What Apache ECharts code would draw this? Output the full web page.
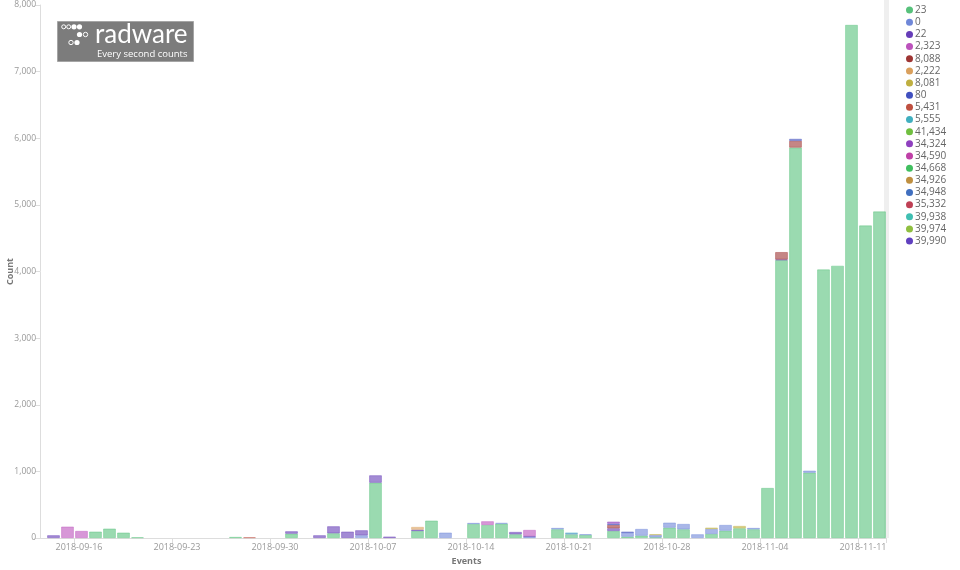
<!DOCTYPE html>
<html>
<head>
<meta charset="utf-8">
<script src="https://cdn.jsdelivr.net/npm/echarts@6/dist/echarts.min.js"></script>
<style>html,body{margin:0;padding:0;background:#fff;}#c{width:960px;height:570px;}</style>
</head>
<body>
<div id="c"></div>
<script>
// Days shown (one bar per day)
const days = ['2018-09-14','2018-09-15','2018-09-16','2018-09-17','2018-09-18','2018-09-19','2018-09-20','2018-09-21','2018-09-22','2018-09-23',
  '2018-09-24','2018-09-25','2018-09-26','2018-09-27','2018-09-28','2018-09-29','2018-09-30','2018-10-01','2018-10-02','2018-10-03',
  '2018-10-04','2018-10-05','2018-10-06','2018-10-07','2018-10-08','2018-10-09','2018-10-10','2018-10-11','2018-10-12','2018-10-13',
  '2018-10-14','2018-10-15','2018-10-16','2018-10-17','2018-10-18','2018-10-19','2018-10-20','2018-10-21','2018-10-22','2018-10-23',
  '2018-10-24','2018-10-25','2018-10-26','2018-10-27','2018-10-28','2018-10-29','2018-10-30','2018-10-31','2018-11-01','2018-11-02',
  '2018-11-03','2018-11-04','2018-11-05','2018-11-06','2018-11-07','2018-11-08','2018-11-09','2018-11-10','2018-11-11','2018-11-12'];
const tickDates = ['2018-09-16','2018-09-23','2018-09-30','2018-10-07','2018-10-14','2018-10-21','2018-10-28','2018-11-04','2018-11-11'];

const seriesNames = ['23','0','22','2,323','8,088','2,222','8,081','80','5,431','5,555','41,434','34,324','34,590','34,668','34,926','34,948','35,332','39,938','39,974','39,990'];
const seriesColors = ['#57c17b','#6f87d8','#663db8','#bc52bc','#9e3533','#daa05d','#bfaf40','#4050bf','#bf5040','#40afbf','#70bf40','#8f40bf','#bf40a7','#40bf5f','#bf8f40','#406fbf','#bf4055','#40bfb2','#8fbf40','#6040bf'];

// counts per day for each series: [date, count]
const s23 = [['2018-09-17',95],['2018-09-18',140],['2018-09-19',80],['2018-09-20',10],['2018-09-27',15],['2018-10-01',65],['2018-10-04',70],['2018-10-07',830],['2018-10-10',105],['2018-10-11',260],['2018-10-14',210],['2018-10-15',195],['2018-10-16',215],['2018-10-17',55],['2018-10-20',130],['2018-10-21',55],['2018-10-22',45],['2018-10-24',105],['2018-10-25',20],['2018-10-26',35],['2018-10-27',10],['2018-10-28',155],['2018-10-29',130],['2018-10-31',60],['2018-11-01',110],['2018-11-02',145],['2018-11-03',130],['2018-11-04',750],['2018-11-05',4170],['2018-11-06',5860],['2018-11-07',980],['2018-11-08',4030],['2018-11-09',4085],['2018-11-10',7700],['2018-11-11',4690],['2018-11-12',4900]];
const s0 = [['2018-10-06',40],['2018-10-12',80],['2018-10-14',15],['2018-10-16',10],['2018-10-18',15],['2018-10-20',20],['2018-10-21',15],['2018-10-22',10],['2018-10-25',55],['2018-10-26',100],['2018-10-27',35],['2018-10-28',75],['2018-10-29',80],['2018-10-30',55],['2018-10-31',75],['2018-11-01',85],['2018-11-03',20],['2018-11-07',30]];
const s22 = [['2018-09-14',40],['2018-10-01',35],['2018-10-03',40],['2018-10-04',105],['2018-10-05',95],['2018-10-06',75],['2018-10-07',110],['2018-10-08',20],['2018-10-10',20],['2018-10-17',35],['2018-10-18',15],['2018-10-24',40],['2018-11-05',10]];
const s2323 = [['2018-09-15',170],['2018-09-16',105],['2018-10-15',55],['2018-10-18',90]];
const s8088 = [['2018-10-24',50],['2018-11-05',110],['2018-11-06',100]];
const s2222 = [['2018-10-10',40]];
const s8081 = [['2018-10-27',10],['2018-10-31',20],['2018-11-02',35]];
const s80 = [['2018-10-24',20],['2018-10-25',20],['2018-11-06',30]];
const s5431 = [['2018-09-28',10]];
const s5555 = [['2018-10-21',5]];
const s41434 = [];
const s34324 = [['2018-10-24',30]];
const s34590 = [];
const s34668 = [];
const s34926 = [];
const s34948 = [];
const s35332 = [];
const s39938 = [];
const s39974 = [];
const s39990 = [];
const seriesCounts = [s23,s0,s22,s2323,s8088,s2222,s8081,s80,s5431,s5555,s41434,s34324,s34590,s34668,s34926,s34948,s35332,s39938,s39974,s39990];

function buildData(pairs) {
  const m = {};
  pairs.forEach(p => { m[p[0]] = p[1]; });
  return days.map(d => (m[d] != null ? m[d] : null));
}

function hexA(hex, a) {
  const n = parseInt(hex.slice(1), 16);
  return 'rgba(' + (n >> 16) + ',' + ((n >> 8) & 255) + ',' + (n & 255) + ',' + a + ')';
}

const series = seriesNames.map((name, i) => ({
  name: name,
  type: 'bar',
  stack: 'total',
  barWidth: 12.5,
  color: seriesColors[i],
  itemStyle: { color: hexA(seriesColors[i], 0.6), borderColor: hexA(seriesColors[i], 0.7), borderWidth: 0.6 },
  emphasis: { disabled: true },
  data: buildData(seriesCounts[i])
}));

const isTick = (idx) => tickDates.indexOf(days[idx]) >= 0;
const FONT = '"Open Sans", sans-serif';

const chart = echarts.init(document.getElementById('c'), null, { renderer: 'canvas' });
chart.setOption({
  animation: false,
  backgroundColor: '#ffffff',
  grid: { left: 46.5, right: 73.5, top: 5, bottom: 32, containLabel: false, outerBoundsMode: 'none' },
  legend: {
    orient: 'vertical', left: 901, top: -1,
    icon: 'circle', itemWidth: 7, itemHeight: 7, itemGap: 0,
    textStyle: { fontFamily: FONT, fontSize: 10, color: '#666', lineHeight: 12.16, padding: [0, 0, 0, -3] },
    selectedMode: false,
    data: seriesNames.map((n, i) => ({ name: n, itemStyle: { color: seriesColors[i], borderWidth: 0 } }))
  },
  xAxis: {
    type: 'category',
    data: days,
    boundaryGap: true,
    name: 'Events', nameLocation: 'middle', nameGap: 19, nameMoveOverlap: false,
    nameTextStyle: { fontFamily: FONT, fontSize: 9, fontWeight: 'bold', color: '#777' },
    axisLine: { show: true, lineStyle: { color: '#dddddd', width: 1 } },
    axisTick: { show: true, alignWithLabel: false, interval: isTick, length: 5, lineStyle: { color: '#dddddd' } },
    axisLabel: {
      interval: isTick, fontFamily: FONT, fontSize: 9, color: '#999', margin: 5,
      padding: [0, 5, 0, 0]
    },
    splitLine: { show: false }
  },
  yAxis: {
    type: 'value', min: 0, max: 8000, interval: 1000, offset: 6.5,
    name: 'Count', nameLocation: 'middle', nameGap: 25, nameRotate: 90, nameMoveOverlap: false,
    nameTextStyle: { fontFamily: FONT, fontSize: 9, fontWeight: 'bold', color: '#777' },
    axisLine: { show: true, lineStyle: { color: '#dddddd', width: 1 } },
    axisTick: { show: true, length: 5, lineStyle: { color: '#dddddd' } },
    axisLabel: { fontFamily: FONT, fontSize: 8.5, color: '#999', margin: 4 },
    splitLine: { show: false }
  },
  graphic: [
    { type: 'rect', z: 0, shape: { x: 884, y: 0, width: 5, height: 538 }, style: { fill: '#efefef' } },
    { type: 'line', z: 0, shape: { x1: 40, y1: 538.5, x2: 47, y2: 538.5 }, style: { stroke: '#dddddd', lineWidth: 1 } },
    { type: 'group', z: 100, children: [
      { type: 'rect', shape: { x: 57.5, y: 21.5, width: 136, height: 40 }, style: { fill: '#7c7c7c', stroke: '#a5a5a5', lineWidth: 1 } },
      { type: 'circle', shape: { cx: 63.7, cy: 26.8, r: 2 }, style: { fill: 'none', stroke: '#fff', lineWidth: 1 } },
      { type: 'circle', shape: { cx: 68.7, cy: 26.8, r: 2 }, style: { fill: 'none', stroke: '#fff', lineWidth: 1 } },
      { type: 'circle', shape: { cx: 74, cy: 26.8, r: 2.6 }, style: { fill: '#fff' } },
      { type: 'circle', shape: { cx: 79.5, cy: 26.8, r: 2.6 }, style: { fill: '#fff' } },
      { type: 'circle', shape: { cx: 79.5, cy: 34.5, r: 2.6 }, style: { fill: '#fff' } },
      { type: 'circle', shape: { cx: 85.5, cy: 34.5, r: 2.2 }, style: { fill: 'none', stroke: '#fff', lineWidth: 1 } },
      { type: 'circle', shape: { cx: 71, cy: 42.5, r: 2.2 }, style: { fill: 'none', stroke: '#fff', lineWidth: 1 } },
      { type: 'circle', shape: { cx: 77, cy: 42.5, r: 2.6 }, style: { fill: '#fff' } },
      { type: 'text', x: 95, y: 22, style: { text: 'radware', fill: '#fff', font: '400 26px Lato, "Open Sans", sans-serif' } },
      { type: 'text', x: 97, y: 49.5, style: { text: 'Every second counts', fill: '#fff', font: '400 9.5px "Open Sans", sans-serif' } }
    ]}
  ],
  series: series
});
</script>
</body>
</html>
